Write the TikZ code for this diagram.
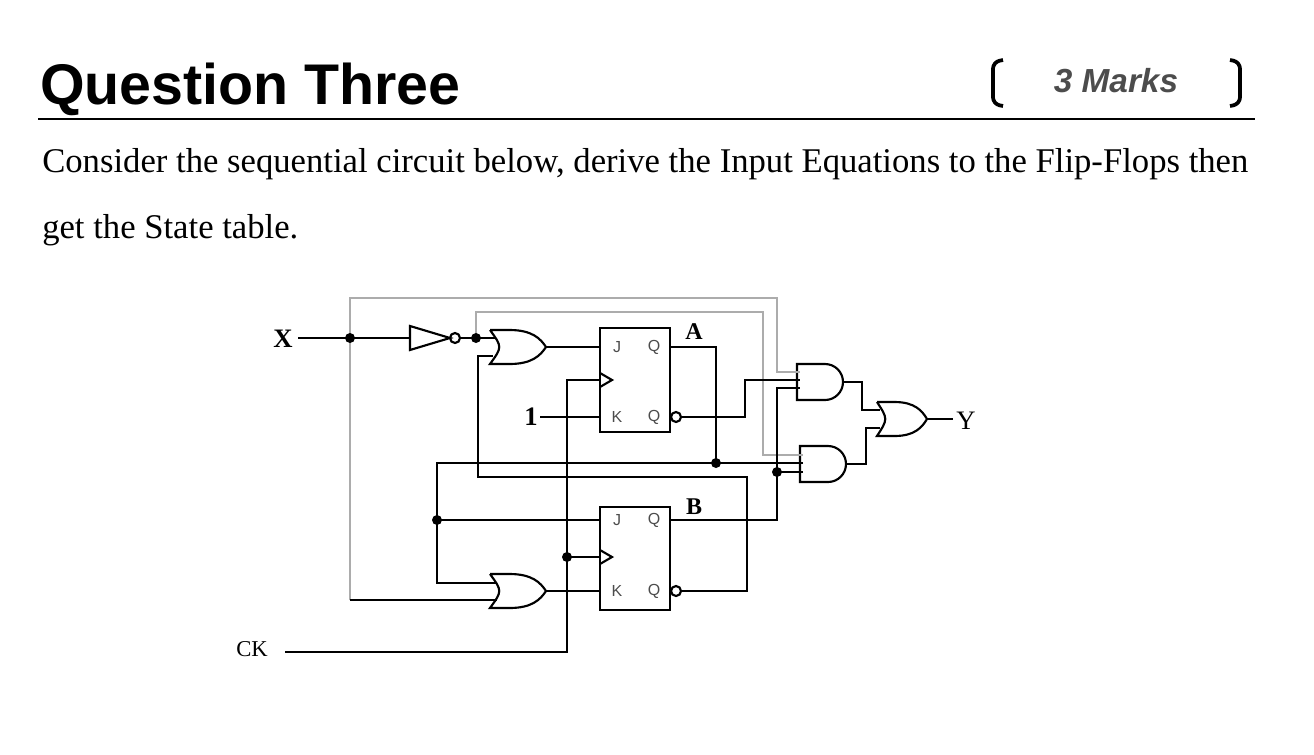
\documentclass[tikz,border=0pt]{standalone}
\usepackage{fontspec}
\setmainfont{Liberation Serif}
\newfontfamily\hsans{Liberation Sans}
\begin{document}
\begin{tikzpicture}[x=0.75pt,y=-0.75pt,
  w/.style={line width=1.6pt,black},
  gw/.style={line width=2pt,gray!65},
  gate/.style={line width=1.6pt},
  dotn/.style={circle,fill=black,inner sep=0pt,minimum size=7.5pt},
  pin/.style={font=\hsans\fontsize{12}{12}\selectfont,text=black!70,inner sep=1pt},
  lab/.style={font=\fontsize{18}{18}\selectfont\bfseries,inner sep=0pt}]
\useasboundingbox (0,0) rectangle (1314,754);
% header
\node[anchor=base west,inner sep=0pt,font=\hsans\bfseries\fontsize{43}{43}\selectfont] (title) at (40,104) {Question Three};
\node[inner sep=0pt,font=\hsans\bfseries\itshape\fontsize{25}{25}\selectfont,text=black!70] (marks) at (1116,81) {3 Marks};
\draw[line width=2.8pt,rounded corners=5pt] (1003,60) -- (993,62) -- (993,104) -- (1003,106);
\draw[line width=2.8pt,rounded corners=5pt] (1230,60) -- (1240,62) -- (1240,104) -- (1230,106);
\draw[line width=1.3pt] (38,119) -- (1255,119);
\node[anchor=base west,inner sep=0pt,font=\fontsize{26}{26}\selectfont] (l1) at (42,172) {Consider the sequential circuit below, derive the Input Equations to the Flip-Flops then};
\node[anchor=base west,inner sep=0pt,font=\fontsize{26}{26}\selectfont] (l2) at (42,238) {get the State table.};
% flip-flops
\draw[gate] (600,328) rectangle (670,432);
\draw[gate] (600,507) rectangle (670,610);
\draw[gate] (600,373) -- (612,380) -- (600,387);
\draw[gate] (600,550) -- (612,557) -- (600,564);
\node[pin] at (617,347) {J}; \node[pin] at (654,347) {Q};
\node[pin] at (617,417) {K}; \node[pin] at (654,417) {Q};
\node[pin] at (617,520) {J}; \node[pin] at (654,520) {Q};
\node[pin] at (617,591) {K}; \node[pin] at (654,591) {Q};
\draw[gate] (676,417) circle (5);
\draw[gate] (676,591) circle (5);
\node[lab] (A) at (694,332) {A};
\node[lab] (B) at (694,507) {B};
% inverter
\draw[gate] (410,326) -- (410,350) -- (450,338) -- cycle;
\draw[gate] (455,338) circle (5);
% gates
\newcommand\org[4]{%
 \draw[gate] (#1,#2-#4/2) -- (#1+0.35*#3,#2-#4/2) .. controls (#1+0.75*#3,#2-#4/2) and (#1+0.9*#3,#2-#4/4) .. (#1+#3,#2)
  .. controls (#1+0.9*#3,#2+#4/4) and (#1+0.75*#3,#2+#4/2) .. (#1+0.35*#3,#2+#4/2) -- (#1,#2+#4/2)
  .. controls (#1+0.22*#3,#2) .. (#1,#2-#4/2);}
\newcommand\andg[4]{%
 \draw[gate] (#1,#2-#4/2) -- (#1+#3-#4/2,#2-#4/2) arc (-90:90:#4/2) -- (#1,#2+#4/2) -- cycle;}
\org{490}{347}{56}{34}
\org{490}{591}{56}{34}
\andg{797}{382}{46}{36}
\andg{800}{464}{46}{36}
\org{877}{419}{50}{34}
% labels
\node[lab,font=\fontsize{20}{20}\selectfont\bfseries] (X) at (283,339) {X};
\node[font=\fontsize{20}{20}\selectfont,inner sep=0pt] (Y) at (966,421) {Y};
\node[font=\fontsize{17}{17}\selectfont,inner sep=0pt] (CK) at (252,649) {CK};
\node[font=\fontsize{20}{20}\selectfont\bfseries,inner sep=0pt] (one) at (531,417) {1};
\coordinate (dx) at (350,338); \coordinate (dxn) at (476,338);
\coordinate (dA) at (716,463); \coordinate (dB) at (777,472);
\coordinate (dJ) at (437,520); \coordinate (dC) at (567,557);
% wires
\draw[w] (298,338) -- (410,338);
\draw[gw] (350,600) -- (350,298) -- (777,298) -- (777,372) -- (800,372);
\draw[w] (350,600) -- (497,600);
\draw[w] (460,338) -- (496,338);
\draw[gw] (476,338) -- (476,312) -- (763,312) -- (763,455) -- (803,455);
\draw[w] (546,347) -- (600,347);
\draw[w] (493,356) -- (478,356) -- (478,477) -- (747,477) -- (747,591) -- (681,591);
\draw[w] (540,417) -- (600,417);
\draw[w] (670,347) -- (716,347) -- (716,463);
\draw[w] (803,463) -- (437,463) -- (437,583) -- (496,583);
\draw[w] (437,520) -- (600,520);
\draw[w] (546,591) -- (600,591);
\draw[w] (670,520) -- (777,520) -- (777,388) -- (800,388);
\draw[w] (777,472) -- (803,472);
\draw[w] (681,417) -- (745,417) -- (745,380) -- (800,380);
\draw[w] (843,382) -- (862,382) -- (862,410) -- (880,410);
\draw[w] (846,464) -- (866,464) -- (866,428) -- (880,428);
\draw[w] (927,419) -- (953,419);
\draw[w] (285,652) -- (567,652) -- (567,380) -- (600,380);
\draw[w] (567,557) -- (600,557);
\foreach \d in {dx,dxn,dA,dB,dJ,dC} \node[dotn] at (\d) {};
\end{tikzpicture}
\end{document}
